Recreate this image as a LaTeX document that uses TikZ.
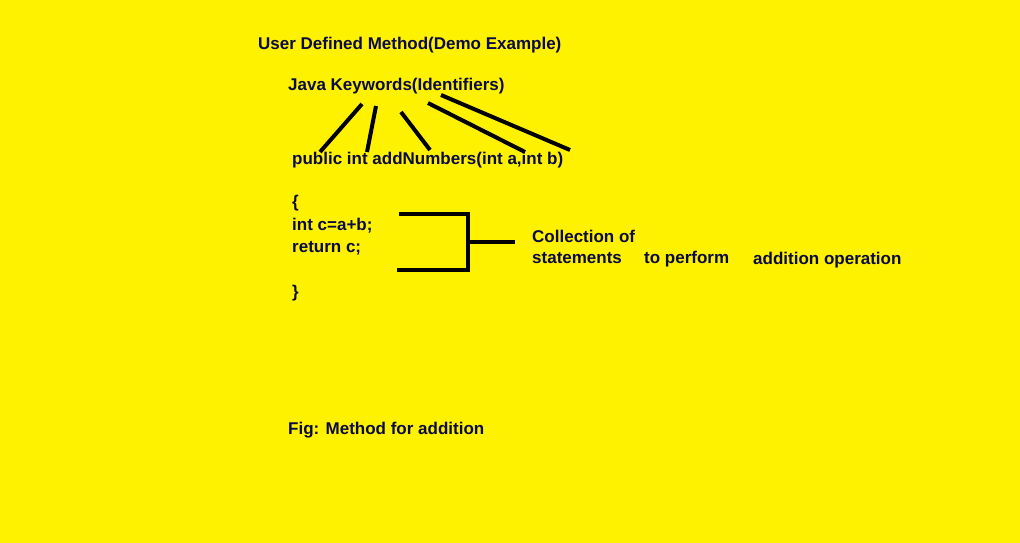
\documentclass[tikz,border=0pt]{standalone}
\usepackage{fontspec}
\setmainfont{Liberation Sans}
\definecolor{bg}{RGB}{255,242,0}
\definecolor{tx}{RGB}{10,10,70}
\begin{document}
\begin{tikzpicture}[x=1pt,y=-1pt,
  t/.style={anchor=west,inner sep=0pt,text=tx,font=\fontsize{17}{20}\selectfont\bfseries},
  ln/.style={line width=4pt,black}]
\fill[bg] (0,0) rectangle (1020,543);
\useasboundingbox (0,0) rectangle (1020,543);
\node[t] (title) at (258,45) {User Defined Method(Demo Example)};
\node[t] (kw) at (288,86) {Java Keywords(Identifiers)};
\node[t] (sig) at (292,160) {public int addNumbers(int a,int b)};
\node[t] (ob) at (292,203) {\{};
\node[t] (l1) at (292,226) {int c=a+b;};
\node[t] (l2) at (292,248) {return c;};
\node[t] (cb) at (292,293) {\}};
\node[t] (c1) at (532,236) {Collection of};
\node[t] (c2) at (532,258) {statements};
\node[t] (c3) at (644,259) {to perform};
\node[t] (c4) at (753,260) {addition operation};
\node[t] (fig) at (288,430) {Fig: Method for addition};
\coordinate (a1) at (320,152); \coordinate (b1) at (362,104);
\coordinate (a2) at (367,152); \coordinate (b2) at (376,106);
\coordinate (a3) at (430,150); \coordinate (b3) at (401,112);
\coordinate (a4) at (525,152); \coordinate (b4) at (428,103);
\coordinate (a5) at (570,150); \coordinate (b5) at (441,95);
\draw[ln] (a1)--(b1); \draw[ln] (a2)--(b2); \draw[ln] (a3)--(b3);
\draw[ln] (a4)--(b4); \draw[ln] (a5)--(b5);
\coordinate (t0) at (399,214); \coordinate (t1) at (468,214);
\coordinate (u1) at (468,270); \coordinate (u0) at (397,270);
\coordinate (m0) at (468,242); \coordinate (m1) at (515,242);
\draw[ln,line width=3.5pt] (t0)--(t1)--(u1)--(u0);
\draw[ln,line width=3.5pt] (m0)--(m1);
\end{tikzpicture}
\end{document}
